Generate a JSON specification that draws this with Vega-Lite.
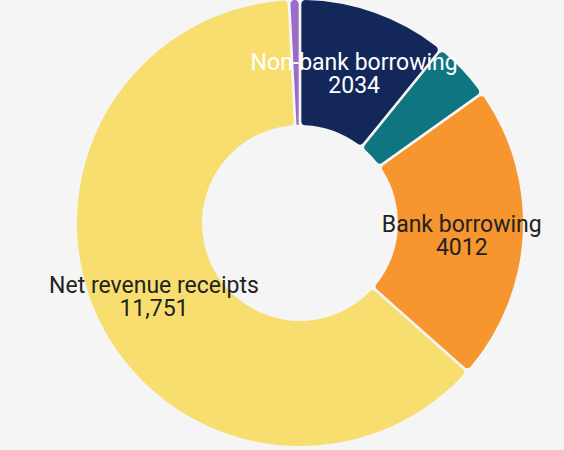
{
  "$schema": "https://vega.github.io/schema/vega-lite/v6.json",
  "width": 528,
  "height": 444,
  "padding": {"left": 36, "top": 0, "right": 0, "bottom": 6},
  "background": "#f5f5f5",
  "config": {"view": {"stroke": null}},
  "data": {
    "values": [
      {"category": "Non-bank borrowing", "value": 2034, "rank": 1, "label": "Non-bank borrowing\n2034"},
      {"category": "External resources", "value": 805, "rank": 2, "label": ""},
      {"category": "Bank borrowing", "value": 4012, "rank": 3, "label": "Bank borrowing\n4012"},
      {"category": "Net revenue receipts", "value": 11751, "rank": 4, "label": "Net revenue receipts\n11,751"},
      {"category": "Other", "value": 148, "rank": 5, "label": ""}
    ]
  },
  "encoding": {
    "theta": {"field": "value", "type": "quantitative", "stack": true},
    "order": {"field": "rank", "type": "quantitative"}
  },
  "layer": [
    {
      "mark": {"type": "arc", "radius": 223, "innerRadius": 98, "padAngle": 0.011, "cornerRadius": 4},
      "encoding": {
        "color": {
          "field": "category",
          "type": "nominal",
          "scale": {
            "domain": ["Non-bank borrowing", "External resources", "Bank borrowing", "Net revenue receipts", "Other"],
            "range": ["#13275a", "#0e7581", "#f7952e", "#f8de6e", "#9b6cc6"]
          },
          "legend": null
        }
      }
    },
    {
      "mark": {"type": "text", "radius": 162, "dy": -7, "font": "Roboto", "fontSize": 23, "lineBreak": "\n", "lineHeight": 23, "align": "center", "baseline": "middle"},
      "encoding": {
        "text": {"field": "label", "type": "nominal"},
        "color": {
          "condition": {"test": "datum.category === 'Non-bank borrowing'", "value": "#ffffff"},
          "value": "#222222"
        }
      }
    }
  ]
}
